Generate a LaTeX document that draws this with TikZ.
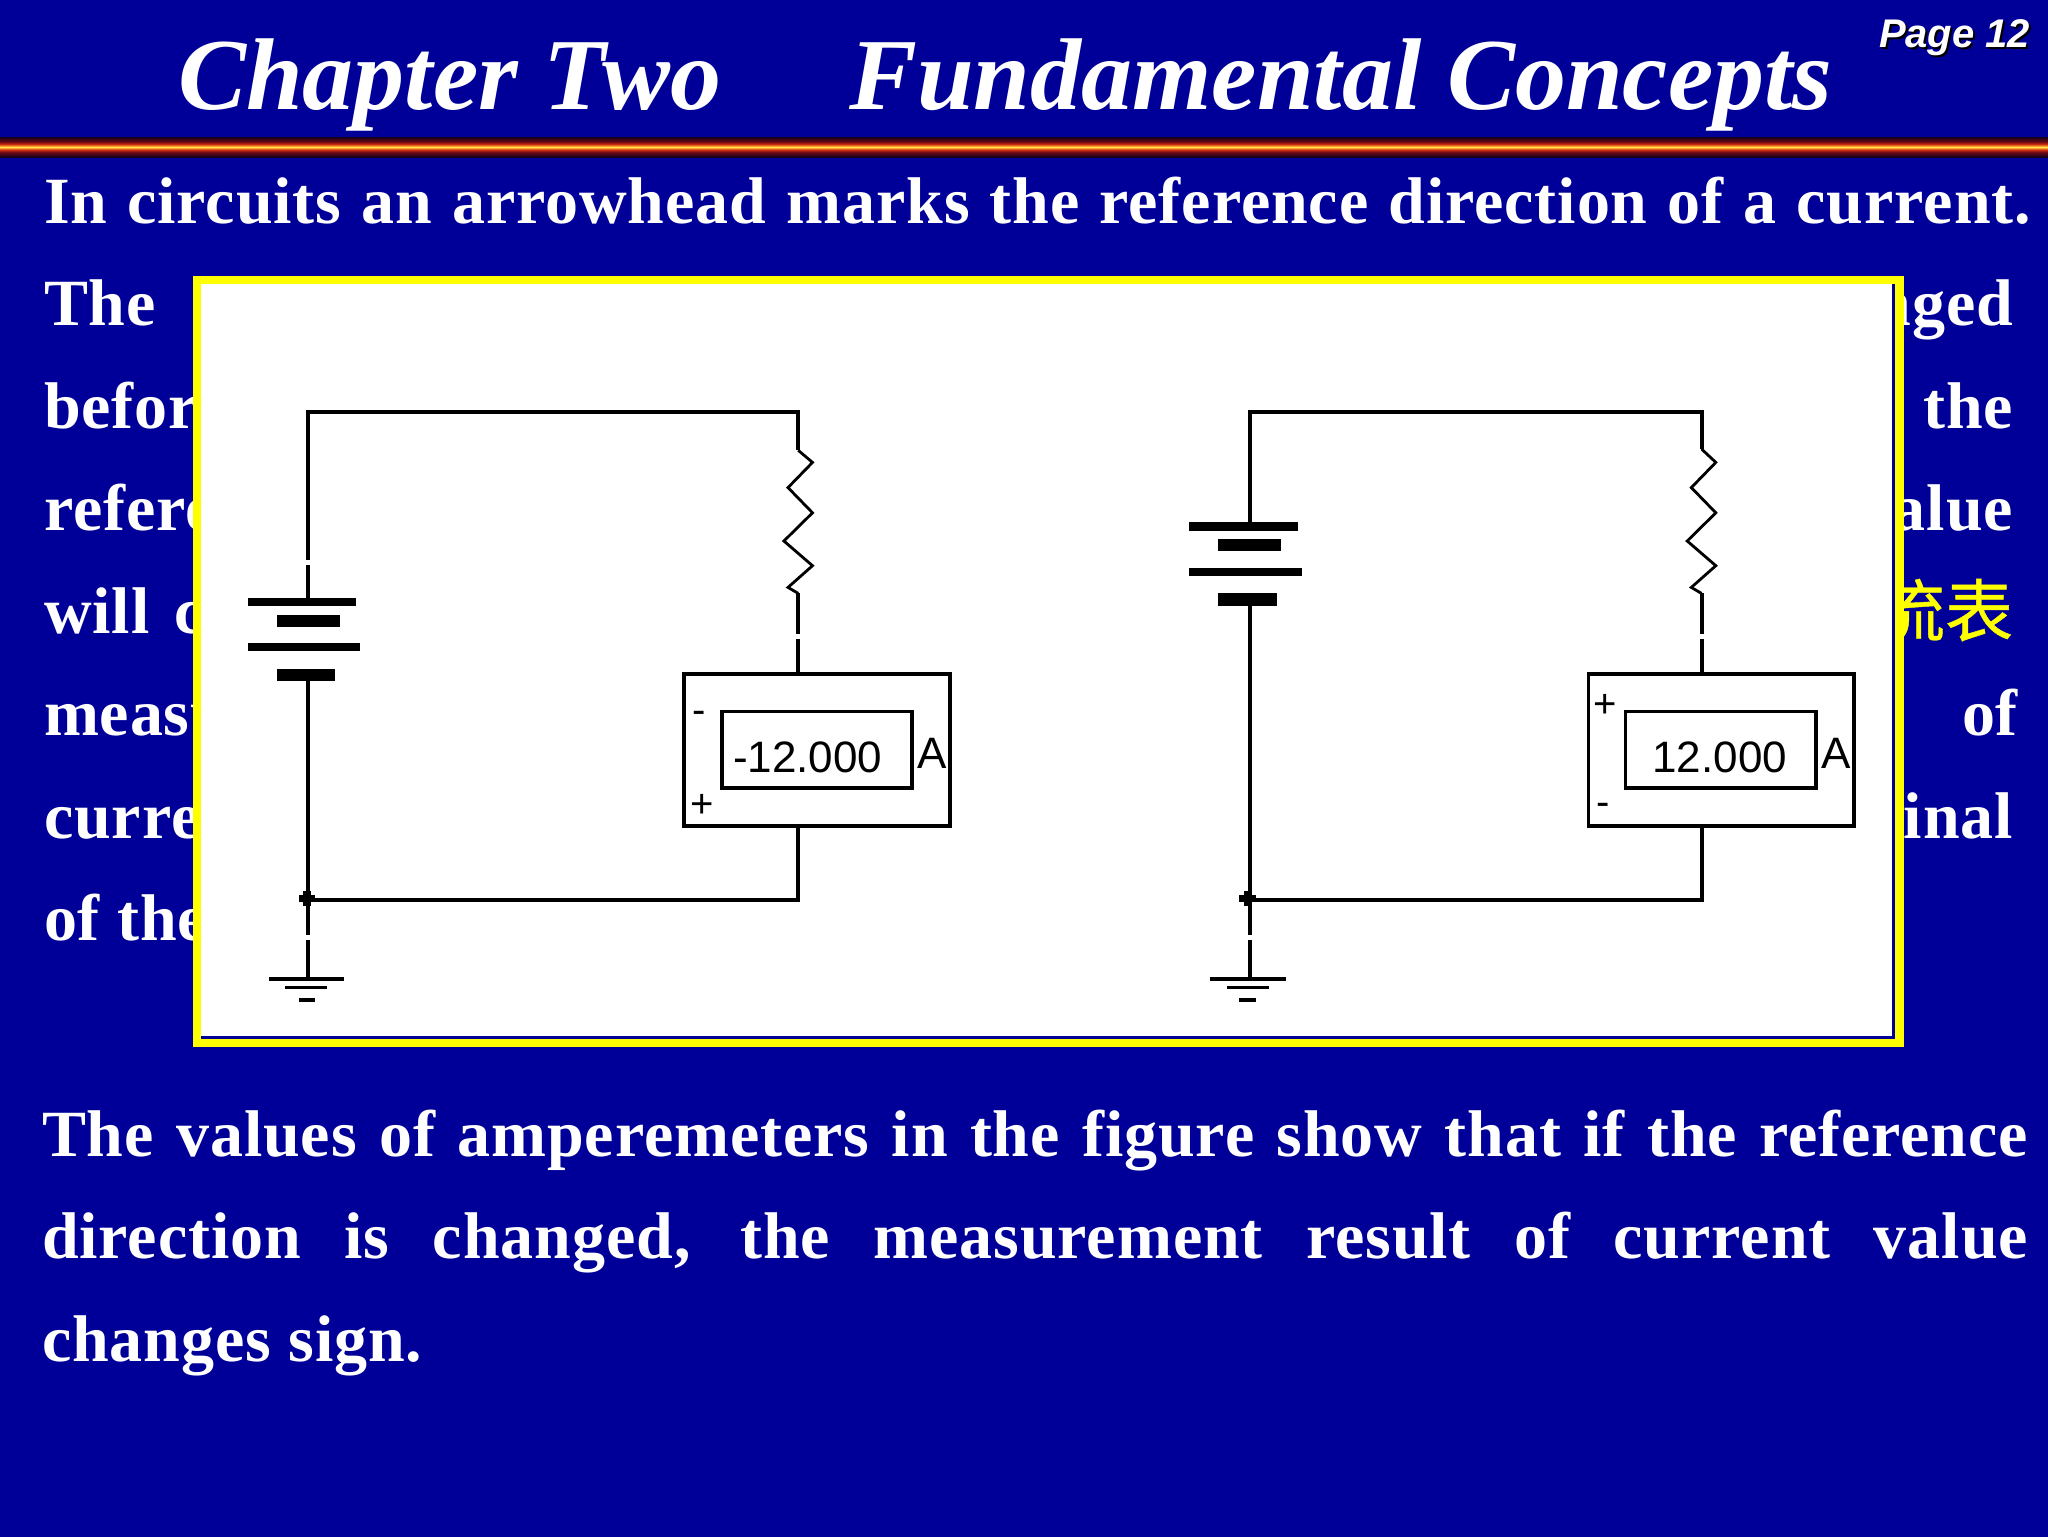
\documentclass[tikz,border=0pt]{standalone}
\usepackage{fontspec}
\setmainfont{Liberation Serif}
\newfontfamily\spacedfont[LetterSpace=1.4]{Liberation Serif}
\newfontfamily\arialfont{Liberation Sans}
\newfontfamily\cjkfont[FakeBold=0.6]{Noto Sans CJK SC}
\definecolor{slidebg}{RGB}{0,0,153}
\definecolor{panelyellow}{RGB}{255,255,0}
\definecolor{bandnavy}{RGB}{5,0,70}
\definecolor{bandblack}{RGB}{25,0,25}
\definecolor{banddark}{RGB}{110,10,20}
\definecolor{bandred}{RGB}{205,45,20}
\definecolor{bandorange}{RGB}{250,150,30}
\definecolor{bandpale}{RGB}{255,225,90}
\pgfdeclareverticalshading{bandshade}{100bp}{
  color(0bp)=(slidebg); color(8bp)=(bandnavy); color(26bp)=(bandblack); color(37bp)=(banddark);
  color(43bp)=(bandred); color(47bp)=(bandorange); color(50bp)=(bandpale); color(53bp)=(bandorange);
  color(57bp)=(bandred); color(63bp)=(banddark); color(74bp)=(bandblack); color(92bp)=(bandnavy); color(100bp)=(slidebg)}
\newcommand{\bodyfont}{\spacedfont\fontsize{33}{33}\selectfont\bfseries}
\newcommand{\readfont}{\arialfont\fontsize{22}{22}\selectfont}
\begin{document}
\begin{tikzpicture}[x=0.5pt,y=-0.5pt,
  every node/.style={inner sep=0pt,outer sep=0pt},
  bodytext/.style={text=white,anchor=base west,font=\bodyfont},
  bodyright/.style={text=white,anchor=base east,font=\bodyfont},
  titletext/.style={anchor=base west,text=white,font=\fontsize{51}{51}\selectfont\bfseries\itshape},
  pagetext/.style={anchor=base west,font=\arialfont\fontsize{20}{20}\selectfont\bfseries\itshape},
  wire/.style={line width=2pt,draw=black,line join=miter,line cap=butt},
  thinwire/.style={line width=1.4pt,draw=black,line join=miter},
  boxline/.style={line width=1.8pt,draw=black,fill=white},
  readout/.style={anchor=base west,text=black,font=\readfont},
  polarity/.style={anchor=base,text=black,font=\arialfont\fontsize{20}{20}\selectfont}]
\useasboundingbox (0,0) rectangle (2048,1536);
\fill[slidebg] (-6,-6) rectangle (2054,1542);
% header
\node[titletext] (titleA) at (178,110) {Chapter Two};
\node[titletext] (titleB) at (849,110) {Fundamental Concepts};
\node[pagetext,text=black] (pageS) at (1881,50) {Page 12};
\node[pagetext,text=white] (pageT) at (1879,48) {Page 12};
\shade[shading=bandshade] (-2,137) rectangle (2050,157);
% body behind the figure
\node[bodytext] (l1) at (44,223) {\hbox to 993.5pt{In circuits an arrowhead marks the reference direction of a current.}};
\node[bodytext] (l2a) at (44,325) {The};
\node[bodyright] (l2b) at (2013,325) {changed};
\node[bodytext] (l3a) at (44,428) {before};
\node[bodyright] (l3b) at (2013,428) {the};
\node[bodytext] (l4a) at (44,530) {reference};
\node[bodyright] (l4b) at (2013,530) {value};
\node[bodytext] (l5a) at (44,633) {will};
\node[bodytext] (l5b) at (174,633) {change};
\node[anchor=base east,text=panelyellow,font=\cjkfont\fontsize{34}{34}\selectfont] (l5c) at (2013,636) {流表};
\node[bodytext] (l6a) at (44,735) {measure};
\node[bodyright] (l6b) at (2018,735) {of};
\node[bodytext] (l7a) at (44,838) {current};
\node[bodyright] (l7b) at (2013,838) {terminal};
\node[bodytext] (l8a) at (44,940) {of the};
% lower text
\node[bodytext] (l9) at (42,1156) {\hbox to 993pt{The values of amperemeters in the figure show that if the reference}};
\node[bodytext] (l10) at (42,1258) {\hbox to 993pt{direction is changed, the measurement result of current value}};
\node[bodytext] (l11) at (42,1361) {changes sign.};
% figure panel
\fill[panelyellow] (193,276) rectangle (1904,1047);
\fill[slidebg] (201,284) rectangle (1895,1039);
\fill[white] (201,284) rectangle (1892,1036);
% ---------- left circuit
\coordinate (ltl) at (308.4,412);
\coordinate (ltr) at (798.2,412);
\coordinate (lgapA) at (308.4,560);
\coordinate (lgapB) at (308.4,565);
\coordinate (lbt) at (308.4,598);
\coordinate (lbb) at (308.4,680);
\coordinate (lj) at (308.4,899.7);
\coordinate (lbr) at (798.2,899.7);
\coordinate (lgapC) at (308.4,935);
\coordinate (lgapD) at (308.4,940);
\coordinate (lgnd) at (308.4,979);
\coordinate (lrt) at (798.2,450.3);
\coordinate (lrb) at (798.2,593.4);
\coordinate (lgapE) at (798.2,633.7);
\coordinate (lgapF) at (798.2,638.8);
\fill[black] (247.7,597.5) rectangle (356.3,605.5);
\fill[black] (277.2,614.6) rectangle (339.5,626.7);
\fill[black] (247.7,643.3) rectangle (360.4,651.4);
\fill[black] (277.2,668.5) rectangle (335.4,680.6);
\draw[boxline] (683.9,674) rectangle (950.2,826.2);
\draw[boxline] (722,711.3) rectangle (912,787.9);
\draw[wire] (lgapA) -- (ltl) -- (ltr) -- (lrt);
\draw[wire] (lgapB) -- (lbt);
\draw[wire] (lbb) -- (lgapC);
\draw[wire] (lgapD) -- (lgnd);
\draw[wire] (lj) -- (lbr) -- (798.2,826.2);
\draw[wire] (lrb) -- (lgapE);
\draw[wire] (lgapF) -- (798.2,674);
\draw[thinwire] (lrt) -- (812.5,462.4) -- (788,487.6) -- (812.5,512.8) -- (783.9,541) -- (812.5,565.7) -- (788,587.4) -- (lrb);
\fill[black] (298.7,895) rectangle (315,902);
\fill[black] (303,890.7) rectangle (311,905.8);
\fill[black] (268.6,977.3) rectangle (344,980.8);
\fill[black] (285.4,985.9) rectangle (327.2,989.4);
\fill[black] (298.7,998) rectangle (315,1002);
\node[readout] (lval) at (733,772.3) {-12.000};
\node[readout] (lunit) at (917,768.7) {A};
\node[polarity] (lminus) at (699,723) {-};
\node[polarity] (lplus) at (701.7,817) {+};
% ---------- right circuit
\coordinate (rtl) at (1249.5,412);
\coordinate (rtr) at (1701.5,412);
\coordinate (rbt) at (1249.5,523);
\coordinate (rbb) at (1249.5,605);
\coordinate (rj) at (1249.5,899.7);
\coordinate (rbr) at (1701.5,899.7);
\coordinate (rgapC) at (1249.5,935);
\coordinate (rgapD) at (1249.5,940);
\coordinate (rgnd) at (1249.5,979);
\coordinate (rrt) at (1701.5,449);
\coordinate (rrb) at (1701.5,593.4);
\coordinate (rgapE) at (1701.5,633.7);
\coordinate (rgapF) at (1701.5,638.8);
\fill[black] (1188.8,522.4) rectangle (1298,530.5);
\fill[black] (1217.9,539) rectangle (1281,551.1);
\fill[black] (1188.8,567.7) rectangle (1302,575.8);
\fill[black] (1217.9,593.4) rectangle (1277,605.5);
\draw[boxline] (1588.3,674) rectangle (1854,826.2);
\draw[boxline] (1625.5,711.3) rectangle (1815.8,787.9);
\draw[wire] (rbt) -- (rtl) -- (rtr) -- (rrt);
\draw[wire] (rbb) -- (rgapC);
\draw[wire] (rgapD) -- (rgnd);
\draw[wire] (rj) -- (rbr) -- (1701.5,826.2);
\draw[wire] (rrb) -- (rgapE);
\draw[wire] (rgapF) -- (1701.5,674);
\draw[thinwire] (rrt) -- (1715.8,462.4) -- (1691.3,487.6) -- (1715.8,512.8) -- (1687.2,541) -- (1715.8,565.7) -- (1691.3,587.4) -- (rrb);
\fill[black] (1239.3,895) rectangle (1255.6,902);
\fill[black] (1243.5,890.7) rectangle (1251.5,905.8);
\fill[black] (1210,977.3) rectangle (1285.7,980.8);
\fill[black] (1227,985.9) rectangle (1269,989.4);
\fill[black] (1239.3,998) rectangle (1256,1002);
\node[readout] (rval) at (1652.5,772.3) {12.000};
\node[readout] (runit) at (1821,768.7) {A};
\node[polarity] (rplus) at (1605,717) {+};
\node[polarity] (rminus) at (1603,815) {-};
\end{tikzpicture}
\end{document}
